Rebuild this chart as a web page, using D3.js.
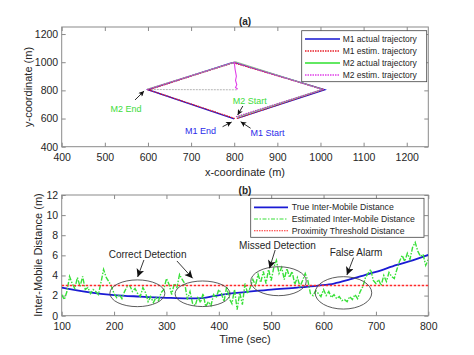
<!DOCTYPE html>
<html><head><meta charset="utf-8">
<script src="https://cdn.jsdelivr.net/npm/d3@7"></script>
<style>body{margin:0;background:#fff}svg{display:block}text{font-family:"Liberation Sans",Arial,sans-serif}</style>
</head><body><svg id="c" width="474" height="355"></svg>
<script>
// ---------- Panel (a) data ----------
const aXTicks = [400,500,600,700,800,900,1000,1100,1200];
const aYTicks = [400,600,800,1000,1200];
const m1ActualX = [808,1010,800,790,600,800];
const m1ActualY = [602,805,998,992,805,598];
const m1EstX = [806,1008,798,792,601,802];
const m1EstY = [600,806,996,990,804,600];
const m2ActualX = [807,1005,803,598];
const m2ActualY = [610,807,1002,808];
const m2EstX = [804,1004,800,598];
const m2EstY = [612,806,1000,806];
const m2GlitchX = [800,802,805,803,806,803,807,806];
const m2GlitchY = [1000,950,900,870,840,820,812,806];
const m2LinkX = [806,600];
const m2LinkY = [804,806];
const aLegend = ["M1 actual trajectory","M1 estim. trajectory","M2 actual trajectory","M2 estim. trajectory"];
const aNotes = [
  {text:"M2 End", x:549, y:668, x1:570, y1:732, x2:591, y2:795, color:"#3ddc3d"},
  {text:"M2 Start", x:836, y:727, x1:820, y1:689, x2:808, y2:625, color:"#3ddc3d"},
  {text:"M1 End", x:722, y:512, x1:773, y1:542, x2:794, y2:575, color:"#2b2bea"},
  {text:"M1 Start", x:877, y:495, x1:838, y1:531, x2:815, y2:577, color:"#2b2bea"}
];

// ---------- Panel (b) data ----------
const bXTicks = [100,200,300,400,500,600,700,800];
const bYTicks = [0,2,4,6,8,10,12];
const trueT = [100,150,200,250,300,340,370,390,420,450,500,550,590,620,650,680,700,740,770,800];
const trueD = [2.8,2.35,2.05,1.9,1.78,1.72,1.75,1.95,2.2,2.35,2.6,2.8,3.0,3.2,3.6,4.05,4.35,5.05,5.5,6.05];
const estT = [100,105,110,115,120,125,130,135,140,145,150,155,160,165,170,175,180,185,190,195,
  200,205,210,215,220,225,230,235,240,245,250,255,260,265,270,275,280,285,290,295,
  300,305,310,315,320,325,330,335,340,345,350,355,360,365,370,375,380,385,390,395,
  400,405,410,415,420,425,430,435,440,445,450,455,460,465,470,475,480,485,490,495,
  500,505,510,515,520,525,530,535,540,545,550,555,560,565,570,575,580,585,590,595,
  600,605,610,615,620,625,630,635,640,645,650,655,660,665,670,675,680,685,690,695,
  700,705,710,715,720,725,730,735,740,745,750,755,760,765,770,775,780,785,790,795,800];
const estD = [2.1,1.6,2.4,3.9,3.2,2.7,3.8,2.9,3.9,2.6,2.8,2.2,2.6,2.4,2.1,3.3,4.6,3.8,3.4,2.9,
  2.2,1.8,2.1,1.7,2.4,2.9,3.0,2.4,2.7,2.2,1.9,2.8,2.3,1.4,1.9,1.3,1.8,1.5,2.3,2.6,
  3.7,3.1,2.1,3.2,2.8,4.1,3.6,3.2,1.6,2.4,1.2,1.0,1.9,1.3,2.2,0.9,1.4,1.0,2.1,1.8,
  2.6,2.2,1.4,2.9,1.7,1.2,2.6,0.6,2.3,1.1,3.2,2.2,2.8,3.6,3.0,4.1,3.3,4.4,3.2,4.6,
  3.5,4.8,5.5,4.2,4.8,3.6,4.7,3.8,4.4,3.1,3.8,2.9,3.5,4.2,3.5,2.2,2.0,2.5,2.2,1.9,
  2.6,2.0,2.4,1.8,2.1,1.7,1.9,1.5,1.6,1.4,1.9,1.6,2.1,1.7,2.4,2.9,3.8,4.2,4.6,3.5,
  3.2,3.6,3.0,4.0,3.4,4.3,3.9,3.7,4.6,5.4,6.0,5.4,6.2,5.6,6.8,7.3,6.4,5.9,6.1,5.0,5.6];
const threshold = 3;
const bLegend = ["True Inter-Mobile Distance","Estimated Inter-Mobile Distance","Proximity Threshold Distance"];
const bEllipses = [
  {t:244.5, v:2.23, rt:52.5, rv:1.33},
  {t:369, v:2.18, rt:52.5, rv:1.27},
  {t:514, v:3.43, rt:53, rv:1.44},
  {t:638, v:2.27, rt:54, rv:1.61}
];
const bNotes = [
  {text:"Correct Detection", x:264, y:6.13, arrows:[[257,5.54,245,3.85],[320,5.44,350,3.72]]},
  {text:"Missed Detection", x:512, y:6.96, arrows:[[507.6,6.53,496.7,4.71]]},
  {text:"False Alarm", x:662, y:6.30, arrows:[[657.3,5.77,644.6,4.05]]}
];

// ---------- drawing ----------
const svg = d3.select("#c");
const axisColor = "#8a8a8a", labelColor = "#262626";
const defs = svg.append("defs");
function mk(id, w, h){
  defs.append("marker").attr("id",id).attr("viewBox","0 0 10 10").attr("refX",10).attr("refY",5)
    .attr("markerWidth",w).attr("markerHeight",h).attr("markerUnits","userSpaceOnUse").attr("orient","auto")
    .append("path").attr("d","M0,0L10,5L0,10L2.5,5Z").attr("fill","#111");
}
mk("ahBig", 10, 8); mk("ahSmall", 7, 5.5);

function panel(L,T,R,B, xd, yd, xt, yt){
  const x = d3.scaleLinear().domain(xd).range([L,R]);
  const y = d3.scaleLinear().domain(yd).range([B,T]);
  const g = svg.append("g");
  g.append("rect").attr("x",L).attr("y",T).attr("width",R-L).attr("height",B-T)
    .attr("fill","#fff").attr("stroke",axisColor).attr("stroke-width",1);
  const fmt = d3.format("d");
  const ax = g.append("g").attr("transform",`translate(0,${B})`)
    .call(d3.axisBottom(x).tickValues(xt).tickSizeInner(-4).tickSizeOuter(0).tickPadding(7).tickFormat(fmt));
  const axt = g.append("g").attr("transform",`translate(0,${T})`)
    .call(d3.axisTop(x).tickValues(xt).tickSizeInner(-4).tickSizeOuter(0).tickFormat(""));
  const ay = g.append("g").attr("transform",`translate(${L},0)`)
    .call(d3.axisLeft(y).tickValues(yt).tickSizeInner(-4).tickSizeOuter(0).tickPadding(3.5).tickFormat(fmt));
  const ayr = g.append("g").attr("transform",`translate(${R},0)`)
    .call(d3.axisRight(y).tickValues(yt).tickSizeInner(-4).tickSizeOuter(0).tickFormat(""));
  [ax,axt,ay,ayr].forEach(a=>{
    a.select(".domain").remove();
    a.selectAll("line").attr("stroke",axisColor);
    a.selectAll("text").attr("fill",labelColor).style("font-size","10.5px").style("font-family",'"Liberation Sans",Arial,sans-serif');
  });
  return {x,y,g};
}

// Panel (a)
const A = panel(61.7,27,428.3,146.7,[400,1250],[400,1250],aXTicks,aYTicks);
const lineA = (xs,ys)=>d3.line().x((d,i)=>A.x(xs[i])).y((d,i)=>A.y(ys[i]))(xs);
A.g.append("path").attr("d",lineA(m2LinkX,m2LinkY)).attr("fill","none").attr("stroke","#b5b5b5").attr("stroke-width",1).attr("stroke-dasharray","2,1");
A.g.append("path").attr("d",lineA(m1ActualX,m1ActualY)).attr("fill","none").attr("stroke","#1515d0").attr("stroke-width",1.3);
A.g.append("path").attr("d",lineA(m1EstX,m1EstY)).attr("fill","none").attr("stroke","#e8202a").attr("stroke-width",1.2).attr("stroke-dasharray","1.5,1");
A.g.append("path").attr("d",lineA(m2ActualX,m2ActualY)).attr("fill","none").attr("stroke","#8fbf8f").attr("stroke-width",1.1);
A.g.append("path").attr("d",lineA(m2EstX,m2EstY)).attr("fill","none").attr("stroke","#c030c8").attr("stroke-width",1.1).attr("stroke-dasharray","1.5,1");
A.g.append("path").attr("d",lineA(m2GlitchX,m2GlitchY)).attr("fill","none").attr("stroke","#e040e8").attr("stroke-width",1.1);
aNotes.forEach(n=>{
  A.g.append("line").attr("x1",A.x(n.x1)).attr("y1",A.y(n.y1)).attr("x2",A.x(n.x2)).attr("y2",A.y(n.y2))
    .attr("stroke","#111").attr("stroke-width",0.9).attr("marker-end","url(#ahSmall)");
  A.g.append("text").attr("x",A.x(n.x)).attr("y",A.y(n.y)).attr("text-anchor","middle").attr("dominant-baseline","central")
    .attr("fill",n.color).style("font-size","9px").text(n.text);
});
// legend (a)
const legA = svg.append("g");
legA.append("rect").attr("x",301.7).attr("y",30.7).attr("width",125).attr("height",51).attr("fill","#fff").attr("stroke","#444").attr("stroke-width",0.8);
const aStyles = [{c:"#1515d0",d:null},{c:"#e8202a",d:"1.5,1"},{c:"#2ee02e",d:null},{c:"#e040e8",d:"1.5,1"}];
aLegend.forEach((t,i)=>{
  const yy = 39 + i*12;
  legA.append("line").attr("x1",305).attr("x2",340).attr("y1",yy).attr("y2",yy).attr("stroke",aStyles[i].c).attr("stroke-width",1.3).attr("stroke-dasharray",aStyles[i].d);
  legA.append("text").attr("x",342.7).attr("y",yy).attr("dominant-baseline","central").attr("fill",labelColor).style("font-size","8.5px").text(t);
});
svg.append("text").attr("x",245).attr("y",21.7).attr("text-anchor","middle").attr("dominant-baseline","central").attr("font-weight","bold").attr("fill",labelColor).style("font-size","10px").text("(a)");
svg.append("text").attr("x",245).attr("y",172).attr("text-anchor","middle").attr("dominant-baseline","central").attr("fill",labelColor).style("font-size","11px").text("x-coordinate (m)");
svg.append("text").attr("transform","translate(28,87) rotate(-90)").attr("text-anchor","middle").attr("dominant-baseline","central").attr("fill",labelColor).style("font-size","11px").text("y-coordinate (m)");

// Panel (b)
const Bp = panel(61.7,195,428.3,315.7,[100,800],[0,12],bXTicks,bYTicks);
defs.append("clipPath").attr("id","clipB").append("rect").attr("x",61.7).attr("y",195).attr("width",366.6).attr("height",120.7);
const gb = Bp.g.append("g").attr("clip-path","url(#clipB)");
gb.append("path").attr("d",d3.line().x((d,i)=>Bp.x(trueT[i])).y((d,i)=>Bp.y(trueD[i])).curve(d3.curveMonotoneX)(trueT))
  .attr("stroke","#1a1ad4").attr("stroke-width",1.8).attr("fill","none");
gb.append("path").attr("d",d3.line().x((d,i)=>Bp.x(estT[i])).y((d,i)=>Bp.y(estD[i]))(estT))
  .attr("stroke","#38e038").attr("stroke-width",1.4).attr("stroke-dasharray","5,1.5,1.5,1.5").attr("fill","none");
gb.append("path").attr("d",d3.line().x(d=>Bp.x(d)).y(()=>Bp.y(threshold))(bXTicks))
  .attr("stroke","#ff2a2a").attr("stroke-width",1.5)
  .attr("stroke-dasharray","2.5,1.5").attr("fill","none");
bEllipses.forEach(e=>{
  Bp.g.append("ellipse").attr("cx",Bp.x(e.t)).attr("cy",Bp.y(e.v))
    .attr("rx",Bp.x(e.t+e.rt)-Bp.x(e.t)).attr("ry",Bp.y(e.v-e.rv)-Bp.y(e.v))
    .attr("fill","none").attr("stroke","#4a4a4a").attr("stroke-width",0.9);
});
bNotes.forEach(n=>{
  n.arrows.forEach(a=>{
    Bp.g.append("line").attr("x1",Bp.x(a[0])).attr("y1",Bp.y(a[1])).attr("x2",Bp.x(a[2])).attr("y2",Bp.y(a[3]))
      .attr("stroke","#222").attr("stroke-width",0.9).attr("marker-end","url(#ahBig)");
  });
  Bp.g.append("text").attr("x",Bp.x(n.x)).attr("y",Bp.y(n.y)).attr("text-anchor","middle").attr("dominant-baseline","central")
    .attr("fill",labelColor).style("font-size","10px").text(n.text);
});
const legB = svg.append("g");
legB.append("rect").attr("x",250.7).attr("y",198.3).attr("width",173.3).attr("height",39).attr("fill","#fff").attr("stroke","#444").attr("stroke-width",0.8);
const bStyles = [{c:"#1a1ad4",d:null,w:1.8},{c:"#38e038",d:"4,1.5,1.5,1.5",w:1.1},{c:"#ff2a2a",d:"1.5,1",w:1.1}];
bLegend.forEach((t,i)=>{
  const yy = 207.3 + i*11.7;
  legB.append("line").attr("x1",254).attr("x2",288).attr("y1",yy).attr("y2",yy).attr("stroke",bStyles[i].c).attr("stroke-width",bStyles[i].w).attr("stroke-dasharray",bStyles[i].d);
  legB.append("text").attr("x",291.7).attr("y",yy).attr("dominant-baseline","central").attr("fill",labelColor).style("font-size","8.7px").text(t);
});
svg.append("text").attr("x",245).attr("y",190).attr("text-anchor","middle").attr("dominant-baseline","central").attr("font-weight","bold").attr("fill",labelColor).style("font-size","10px").text("(b)");
svg.append("text").attr("x",245).attr("y",339).attr("text-anchor","middle").attr("dominant-baseline","central").attr("fill",labelColor).style("font-size","11px").text("Time (sec)");
svg.append("text").attr("transform","translate(38,255) rotate(-90)").attr("text-anchor","middle").attr("dominant-baseline","central").attr("fill",labelColor).style("font-size","11px").text("Inter-Mobile Distance (m)");
</script></body></html>
